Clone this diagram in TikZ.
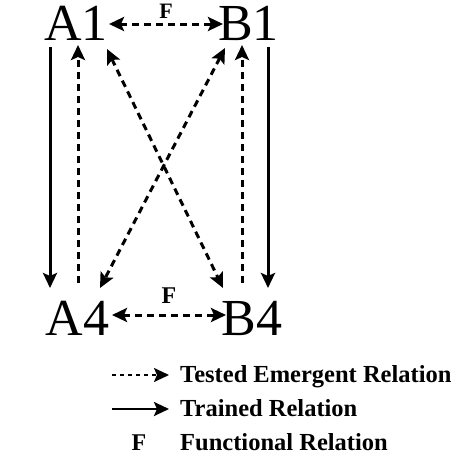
\documentclass[tikz,border=0pt]{standalone}
\usepackage{fontspec}
\setmainfont{Liberation Serif}
\usetikzlibrary{arrows.meta}
\begin{document}
\begin{tikzpicture}[x=1pt,y=-1pt,
  big/.style={inner sep=0pt,anchor=base,font=\fontsize{52}{52}\selectfont},
  lab/.style={inner sep=0pt,anchor=base,font=\fontsize{24}{24}\selectfont\bfseries},
  toplab/.style={inner sep=0pt,anchor=base,font=\fontsize{22}{22}\selectfont\bfseries},
  legtext/.style={inner sep=0pt,anchor=base west,font=\fontsize{24.5}{24.5}\selectfont\bfseries},
  tip/.style={-{Stealth[length=15pt,width=14pt,inset=3pt]}},
  both/.style={{Stealth[length=15pt,width=14pt,inset=3pt]}-{Stealth[length=15pt,width=14pt,inset=3pt]}},
  trained/.style={tip,line width=3pt},
  tested/.style={tip,line width=3pt,dash pattern=on 7pt off 5pt},
  testedboth/.style={both,line width=3pt,dash pattern=on 7pt off 5pt}]
\useasboundingbox (0,0) rectangle (474,474);
\fill[white] (0,0) rectangle (474,474);
% nodes
\node[big] (A1) at (76,40) {A1};
\node[big] (B1) at (248.5,40) {B1};
\node[big] (A4) at (77.5,335) {A4};
\node[big] (B4) at (252,335) {B4};
% endpoints
\coordinate (a1r) at (109,24);
\coordinate (b1l) at (223,24);
\coordinate (a4r) at (112,315);
\coordinate (b4l) at (226,315);
\coordinate (a1s) at (50,47);
\coordinate (a4n) at (50,288);
\coordinate (a1d) at (78,45);
\coordinate (a4d) at (78,283);
\coordinate (b1d) at (242,45);
\coordinate (b4d) at (242,283);
\coordinate (b1s) at (268,47);
\coordinate (b4n) at (268,288);
\coordinate (a1x) at (107,49);
\coordinate (b4x) at (223,288);
\coordinate (b1x) at (225,48);
\coordinate (a4x) at (100,288);
% horizontal F relations
\draw[testedboth] (a1r) -- (b1l) node[toplab,midway,yshift=6pt] (F1) {F};
\draw[testedboth] (a4r) -- (b4l) node[lab,midway,yshift=12pt] (F2) {F};
% trained
\draw[trained] (a1s) -- (a4n);
\draw[trained] (b1s) -- (b4n);
% tested vertical
\draw[tested] (a4d) -- (a1d);
\draw[tested] (b4d) -- (b1d);
% diagonals
\draw[testedboth] (a1x) -- (b4x);
\draw[testedboth] (b1x) -- (a4x);
% legend
\coordinate (l1a) at (112,375);
\coordinate (l1b) at (169,375);
\coordinate (l2a) at (112,409);
\coordinate (l2b) at (169,409);
\draw[tip,line width=2pt,dash pattern=on 4pt off 4pt] (l1a) -- (l1b);
\draw[tip,line width=2.6pt] (l2a) -- (l2b);
\node[legtext] (t1) at (180,382) {Tested Emergent Relation};
\node[legtext] (t2) at (180,416) {Trained Relation};
\node[lab] (F3) at (139,450) {F};
\node[legtext] (t3) at (180,450) {Functional Relation};
\end{tikzpicture}
\end{document}
